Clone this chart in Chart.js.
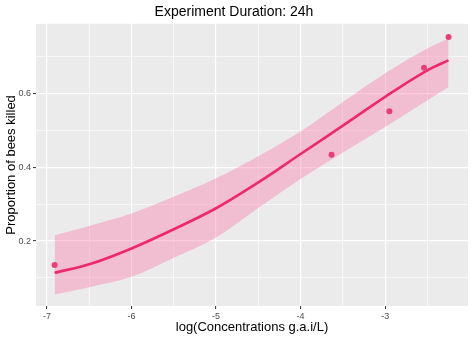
<!DOCTYPE html>
<html>
<head>
<meta charset="utf-8">
<script src="https://cdn.jsdelivr.net/npm/chart.js@4/dist/chart.umd.min.js"></script>
<style>
  html, body { margin: 0; padding: 0; background: #fff; }
  #wrap { width: 474px; height: 338px; }
</style>
</head>
<body>
<div id="wrap"><canvas id="grafico" width="474" height="338"></canvas></div>
<script>
// observed points
const pointX = [-6.91, -3.634, -2.95, -2.54, -2.25];
const pointY = [0.135, 0.434, 0.552, 0.67, 0.753];

// fitted curve and confidence band
const fitX = [-6.91, -6.5, -6.0, -5.5, -5.0, -4.5, -4.0, -3.5, -3.0, -2.5, -2.25];
const fitY = [0.114, 0.137, 0.18, 0.232, 0.289, 0.359, 0.436, 0.513, 0.591, 0.663, 0.69];
const bandLower = [0.055, 0.075, 0.103, 0.155, 0.21, 0.29, 0.368, 0.44, 0.509, 0.582, 0.618];
const bandUpper = [0.216, 0.241, 0.275, 0.32, 0.37, 0.43, 0.497, 0.577, 0.655, 0.722, 0.749];

const toXY = (xs, ys) => xs.map((x, i) => ({ x: x, y: ys[i] }));

const lineColor = 'rgb(238, 40, 110)';
const pointColor = 'rgb(232, 62, 118)';
const bandColor = 'rgba(247, 122, 167, 0.4)';
const tickGray = '#4d4d4d';

// grey panel like ggplot
const panelBg = {
  id: 'panelBg',
  beforeDraw(chart) {
    const a = chart.chartArea;
    const c = chart.ctx;
    c.save();
    c.fillStyle = '#ebebeb';
    c.fillRect(a.left, a.top, a.right - a.left, a.bottom - a.top);
    c.restore();
  }
};

const isMajorX = v => Math.abs(v - Math.round(v)) < 1e-6;
const isMajorY = v => Math.round(v * 10) % 2 === 0;

const ctx = document.getElementById('grafico').getContext('2d');

const grafico = new Chart(ctx, {
  type: 'scatter',
  data: {
    datasets: [
      {
        label: 'points',
        data: toXY(pointX, pointY),
        pointRadius: 3,
        pointBackgroundColor: pointColor,
        pointBorderWidth: 0,
        showLine: false
      },
      {
        label: 'fit',
        data: toXY(fitX, fitY),
        showLine: true,
        borderColor: lineColor,
        borderWidth: 2.6,
        pointRadius: 0,
        cubicInterpolationMode: 'monotone',
        fill: false
      },
      {
        label: 'upper',
        data: toXY(fitX, bandUpper),
        showLine: true,
        borderWidth: 0,
        borderColor: 'rgba(0,0,0,0)',
        pointRadius: 0,
        cubicInterpolationMode: 'monotone',
        backgroundColor: bandColor,
        fill: '+1'
      },
      {
        label: 'lower',
        data: toXY(fitX, bandLower),
        showLine: true,
        borderWidth: 0,
        borderColor: 'rgba(0,0,0,0)',
        pointRadius: 0,
        cubicInterpolationMode: 'monotone',
        fill: false
      }
    ]
  },
  options: {
    responsive: false,
    animation: false,
    layout: { padding: { left: 0, right: 6, top: 0, bottom: 0 } },
    plugins: {
      legend: { display: false },
      tooltip: { enabled: false },
      title: {
        display: true,
        text: 'Experiment Duration: 24h',
        color: '#000',
        font: { family: 'Liberation Sans, Arial, sans-serif', size: 14, weight: 'normal' },
        padding: { top: 4, bottom: 3 }
      }
    },
    scales: {
      x: {
        type: 'linear',
        min: -7.13,
        max: -2.02,
        afterFit(s) { s.height = 32; },
        border: { display: false },
        grid: {
          color: '#ffffff',
          lineWidth: c => isMajorX(c.tick.value) ? 1.2 : 0.6,
          tickLength: 3,
          tickColor: c => isMajorX(c.tick.value) ? '#333333' : 'rgba(0,0,0,0)',
          tickWidth: 1
        },
        ticks: {
          stepSize: 0.5,
          includeBounds: false,
          autoSkip: false,
          maxRotation: 0,
          padding: 2,
          color: tickGray,
          font: { family: 'Liberation Sans, Arial, sans-serif', size: 9 },
          callback: v => isMajorX(v) ? String(Math.round(v)) : ''
        },
        title: {
          display: true,
          text: 'log(Concentrations g.a.i/L)',
          color: '#000',
          font: { family: 'Liberation Sans, Arial, sans-serif', size: 13 },
          padding: { top: 0, bottom: 3 }
        }
      },
      y: {
        type: 'linear',
        min: 0.024,
        max: 0.789,
        afterFit(s) { s.width = 36; },
        border: { display: false },
        grid: {
          color: '#ffffff',
          lineWidth: c => isMajorY(c.tick.value) ? 1.2 : 0.6,
          tickLength: 3,
          tickColor: c => isMajorY(c.tick.value) ? '#333333' : 'rgba(0,0,0,0)',
          tickWidth: 1
        },
        ticks: {
          stepSize: 0.1,
          includeBounds: false,
          autoSkip: false,
          padding: 2,
          color: tickGray,
          font: { family: 'Liberation Sans, Arial, sans-serif', size: 9 },
          callback: v => isMajorY(v) ? v.toFixed(1) : ''
        },
        title: {
          display: true,
          text: 'Proportion of bees killed',
          color: '#000',
          font: { family: 'Liberation Sans, Arial, sans-serif', size: 13 },
          padding: { top: 4, bottom: 0 }
        }
      }
    }
  },
  plugins: [panelBg]
});
</script>
</body>
</html>
